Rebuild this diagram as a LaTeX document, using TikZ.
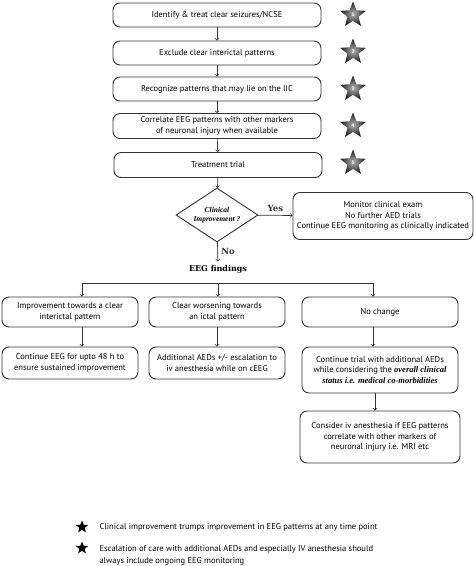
\documentclass[tikz,border=0pt]{standalone}
\usepackage{fontspec}
\setmainfont{DejaVu Serif}
\setsansfont{PT Sans}
\newfontfamily\scriptish{Liberation Serif}
\usetikzlibrary{shapes.geometric}

\begin{document}
\begin{tikzpicture}[x=1pt,y=-1pt,
    box/.style={draw=black!80, line width=0.9pt, rounded corners=7pt, align=center, inner sep=1pt, font=\sffamily\fontsize{8.5}{10.5}\selectfont},
    numstar/.style={star, star points=5, star point ratio=2.3, minimum size=27pt, inner sep=0pt, inner color=gray!60, outer color=black!90, text=white, font=\sffamily\bfseries\fontsize{5}{5}\selectfont},
    keystar/.style={star, star points=5, star point ratio=2.3, minimum size=13pt, inner sep=0pt, fill=black},
    arr/.style={->, black!80, line width=0.7pt},
    lbl/.style={font=\bfseries\fontsize{8.5}{10}\selectfont},
    emph/.style={font=\scriptish\bfseries\itshape\fontsize{7.5}{9}\selectfont},
    note/.style={anchor=west, align=left, font=\sffamily\fontsize{8.5}{12}\selectfont}
  ]
  \useasboundingbox (0,0) rectangle (474,566);

  % main steps
  \node[box, minimum width=208pt, minimum height=24pt] (s1) at (217,15) {Identify \& treat clear seizures/NCSE};
  \node[box, minimum width=208pt, minimum height=24pt] (s2) at (217,53) {Exclude clear interictal patterns};
  \node[box, minimum width=208pt, minimum height=24pt] (s3) at (217,89) {Recognize patterns that may lie on the IIC};
  \node[box, minimum width=208pt, minimum height=25pt] (s4) at (217,126) {Correlate EEG patterns with other markers\\of neuronal injury when available};
  \node[box, minimum width=208pt, minimum height=25pt] (s5) at (218,165) {Treatment trial};

  \node[numstar] (k1) at (353,15) {1};
  \node[numstar] (k2) at (353,52) {2};
  \node[numstar] (k3) at (353,89) {3};
  \node[numstar] (k4) at (353,126) {4};
  \node[numstar] (k5) at (353,163) {5};

  \draw[arr] (s1) -- (s2);
  \draw[arr] (s2) -- (s3);
  \draw[arr] (s3) -- (s4);
  \draw[arr] (s4) -- (s5);

  % decision
  \node[diamond, draw=black!80, line width=0.9pt, aspect=1.5, minimum width=82pt, minimum height=54pt, inner sep=0pt, align=center, emph] (dec) at (217,215) {Clinical\\Improvement ?};
  \node[box, minimum width=180pt, minimum height=47pt] (mon) at (383,216) {Monitor clinical exam\\No further AED trials\\Continue EEG monitoring as clinically indicated};
  \node[lbl, font=\bfseries\fontsize{8}{10}\selectfont] (eeg) at (218,269) {EEG findings};

  \draw[arr] (s5) -- (dec);
  \draw[arr] (dec) -- node[lbl, above] {Yes} (mon);
  \draw[arr] (dec) -- node[lbl, right] {No} (eeg);

  % split
  \coordinate (hl) at (82,283);
  \coordinate (hm) at (218,283);
  \coordinate (hr) at (373,283);

  \node[box, minimum width=136pt, minimum height=30pt] (r1) at (70,312) {Improvement towards a clear\\interictal pattern};
  \node[box, minimum width=136pt, minimum height=30pt] (r2) at (217,312) {Clear worsening towards\\an ictal pattern};
  \node[box, minimum width=156pt, minimum height=30pt] (r3) at (380,312) {No change};

  \node[box, minimum width=136pt, minimum height=32pt] (c1) at (70,363) {Continue EEG for upto 48 h to\\ensure sustained improvement};
  \node[box, minimum width=136pt, minimum height=32pt] (c2) at (217,363) {Additional AEDs +/- escalation to\\iv anesthesia while on cEEG};
  \node[box, minimum width=156pt, minimum height=46pt] (c3) at (380,370) {Continue trial with additional AEDs\\while considering the {\scriptish\bfseries\itshape overall clinical}\\{\scriptish\bfseries\itshape status i.e. medical co-morbidities}};
  \node[box, minimum width=160pt, minimum height=52pt] (d3) at (380,437) {Consider iv anesthesia if EEG patterns\\correlate with other markers of\\neuronal injury i.e. MRI etc};

  \draw[black!80, line width=0.7pt] (hl) -- (hr);
  \draw[arr] (hl) -- (hl |- r1.north);
  \draw[arr] (hm) -- (hm |- r2.north);
  \draw[arr] (hr) -- (hr |- r3.north);
  \draw[arr] (r1.south -| hl) -- (c1.north -| hl);
  \draw[arr] (r2) -- (c2);
  \draw[arr] (r3.south -| hr) -- (c3.north -| hr);
  \draw[arr] (c3.south -| 375,0) -- (d3.north -| 375,0);

  % key
  \node[keystar] (n1) at (82,527) {};
  \node[note] (t1) at (96,527) {Clinical improvement trumps improvement in EEG patterns at any time point};
  \node[keystar] (n2) at (82,548) {};
  \node[note] (t2) at (96,555) {Escalation of care with additional AEDs and especially IV anesthesia should\\always include ongoing EEG monitoring};
\end{tikzpicture}
\end{document}
